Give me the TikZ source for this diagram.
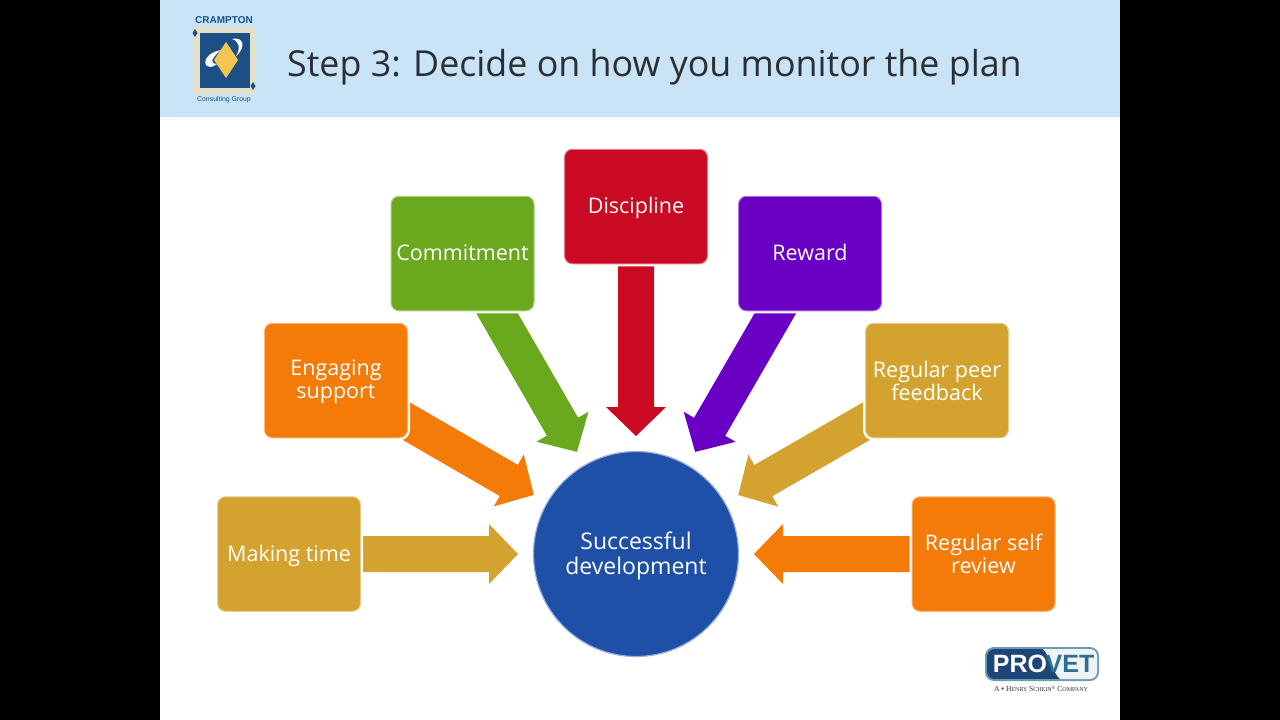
\documentclass[tikz,border=0pt]{standalone}
\usepackage{fontspec}
\setmainfont{Open Sans}
\newfontfamily\logofont{Liberation Sans}
\newfontfamily\capsfont{Liberation Serif}
\usetikzlibrary{calc,backgrounds}
\definecolor{headerblue}{HTML}{C9E3F7}
\definecolor{titleink}{HTML}{2B2F33}
\definecolor{goldc}{HTML}{D4A32F}
\definecolor{orangec}{HTML}{F47B07}
\definecolor{greenc}{HTML}{6AA81D}
\definecolor{redc}{HTML}{C90A22}
\definecolor{purplec}{HTML}{6A00C4}
\definecolor{bluec}{HTML}{1E50A8}
\definecolor{logoblue}{HTML}{1B4F85}
\definecolor{logobeige}{HTML}{E3DFC8}
\definecolor{logoyellow}{HTML}{F3C653}
\definecolor{pvdark}{HTML}{1E4578}
\definecolor{pvteal}{HTML}{2E6E92}
\tikzset{
  card/.style={rectangle,rounded corners=8pt,minimum width=143pt,minimum height=114.5pt,
    draw=#1!55!white,fill=#1,line width=1pt,text=white,align=center,inner sep=0pt,
    font=\fontsize{21.5}{23}\selectfont,
    preaction={draw=white,line width=5pt}},
  oneline/.style={text height=18pt,text depth=4pt},
  hubnode/.style={circle,minimum size=205pt,draw=#1!45!white,fill=#1,line width=1.2pt,
    text=white,align=center,inner sep=0pt,font=\fontsize{23}{25}\selectfont},
  logotext/.style={inner sep=0pt,text=logoblue},
}
% block arrow running from the centre of a card towards the hub; the card hides its tail
\newcommand{\blockarrow}[3]{%
  \coordinate (tipP) at ($(#2)!118pt!(#1)$);
  \coordinate (baseP) at ($(#2)!147pt!(#1)$);
  \fill[#3] ($(#1)!18pt!90:(#2)$) -- ($(baseP)!18pt!90:(#2)$) -- ($(baseP)!30pt!90:(#2)$)
    -- (tipP) -- ($(baseP)!30pt!-90:(#2)$) -- ($(baseP)!18pt!-90:(#2)$) -- ($(#1)!18pt!-90:(#2)$) -- cycle;
}
\begin{document}
\begin{tikzpicture}[x=1pt,y=-1pt]
\useasboundingbox (0,0) rectangle (1280,720);
% cards and hub
\node[card=goldc,oneline]   (time)   at (289,554)   {Making time};
\node[card=orangec] (engage) at (336,380.5) {\rule{0pt}{18pt}Engaging\\support};
\node[card=greenc,oneline]  (commit) at (462.5,253.5) {Commitment};
\node[card=redc,oneline]    (disc)   at (636,206.5) {Discipline};
\node[card=purplec,oneline] (reward) at (810,253.5) {Reward};
\node[card=goldc]   (peer)   at (937,380.5) {Regular peer\\feedback};
\node[card=orangec] (self)   at (983.5,554) {Regular self\\review};
\node[hubnode=bluec] (hub)   at (636,554)   {\rule{0pt}{21.5pt}Successful\\development};
\begin{scope}[on background layer]
  \fill[black] (0,0) rectangle (1280,720);
  \fill[white] (160,0) rectangle (1120,720);
  \fill[headerblue] (160,0) rectangle (1120,117);
  \blockarrow{time}{hub}{goldc}
  \blockarrow{engage}{hub}{orangec}
  \blockarrow{commit}{hub}{greenc}
  \blockarrow{disc}{hub}{redc}
  \blockarrow{reward}{hub}{purplec}
  \blockarrow{peer}{hub}{goldc}
  \blockarrow{self}{hub}{orangec}
\end{scope}
% title
\node[anchor=west,inner sep=0pt,text=titleink,font=\fontsize{35.8}{38}\selectfont] (title) at (287,67)
  {Step 3: Decide on how you monitor the plan};
% Crampton logo
\fill[logobeige] (193,27) rectangle (256,94);
\fill[logoblue] (200,33) rectangle (250,88);
\fill[logoblue] (195,29) -- (197.5,33) -- (195,37) -- (192.5,33) -- cycle;
\fill[logoblue] (253,82) -- (255.5,86) -- (253,90) -- (250.5,86) -- cycle;
\fill[white] (232,39) .. controls (244,36) and (246,48) .. (236,56)
  .. controls (241,48) and (239,41) .. (232,39) -- cycle;
\fill[white] (221,50) .. controls (208,52) and (202,62) .. (207,66)
  .. controls (212,68) and (214,66) .. (217,64) .. controls (211,64) and (209,60) .. (221,50) -- cycle;
\fill[logoyellow] (226,42) -- (238,60) -- (226,78) -- (214,60) -- cycle;
\node[logotext,font=\logofont\bfseries\fontsize{10}{11}\selectfont] (cramp) at (224,20) {CRAMPTON};
\node[logotext,font=\logofont\fontsize{6.9}{8}\selectfont] (consult) at (224,99.5) {Consulting Group};
% Provet logo
\fill[pvteal!70!white,rounded corners=9pt] (985,647) rectangle (1099,681);
\fill[white!92!pvteal,rounded corners=7pt] (987,649) rectangle (1097,679);
\begin{scope}
  \clip[rounded corners=7pt] (987,649) rectangle (1097,679);
  \fill[pvdark] (985,647) -- (1040,647) .. controls (1050,652) and (1050,672) .. (1062,681) -- (985,681) -- cycle;
\end{scope}
\node[inner sep=0pt,text=white,font=\logofont\bfseries\fontsize{25}{26}\selectfont] (pro) at (1020,664) {PRO};
\node[inner sep=0pt,text=pvteal,font=\logofont\bfseries\fontsize{25}{26}\selectfont] (vet) at (1070,664) {VET};
\node[inner sep=0pt,text=black!80,font=\capsfont\fontsize{7.6}{8}\selectfont] (schein) at (1041,689)
  {A {\logofont\textbullet} H\fontsize{6}{8}\selectfont ENRY \fontsize{7.6}{8}\selectfont S\fontsize{6}{8}\selectfont CHEIN\textsuperscript{®} \fontsize{7.6}{8}\selectfont C\fontsize{6}{8}\selectfont OMPANY};
\end{tikzpicture}
\end{document}
